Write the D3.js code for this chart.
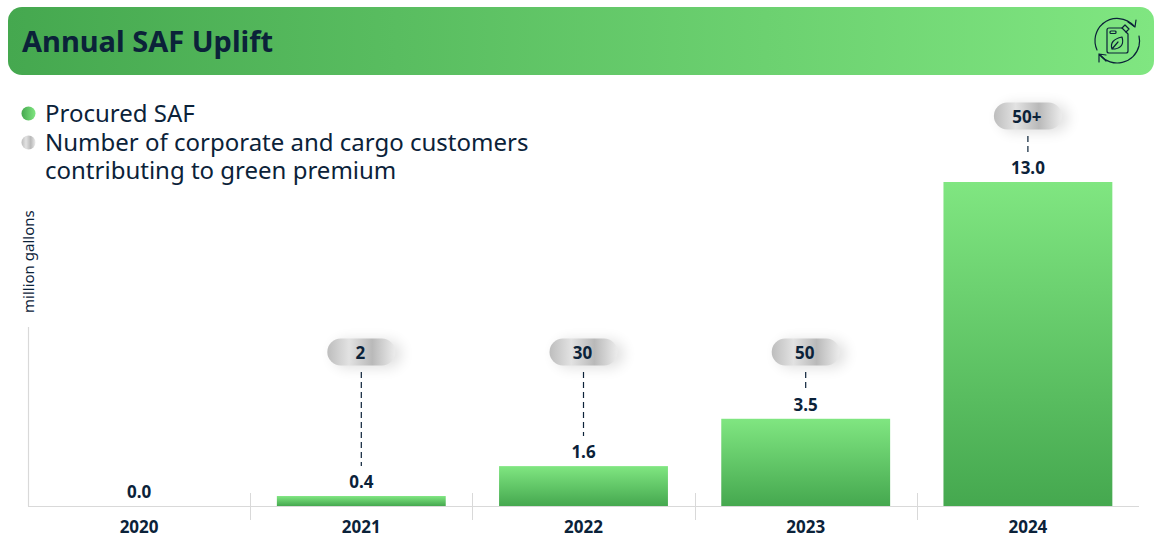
<!DOCTYPE html>
<html>
<head>
<meta charset="utf-8">
<script src="https://cdn.jsdelivr.net/npm/d3@7/dist/d3.min.js"></script>
<style>
  html, body { margin: 0; padding: 0; background: #fff; }
  svg { display: block; }
  text { font-family: "Noto Sans", sans-serif; fill: #0b2239; }
</style>
</head>
<body>
<svg id="chart" width="1158" height="556"></svg>
<script>
const years = ["2020", "2021", "2022", "2023", "2024"];
const procuredSaf = [0.0, 0.4, 1.6, 3.5, 13.0];
const customerLabels = [null, "2", "30", "50", "50+"];
const titleText = "Annual SAF Uplift";
const legendSaf = "Procured SAF";
const legendCustomers = ["Number of corporate and cargo customers", "contributing to green premium"];
const unitLabel = "million gallons";

const ink = "#0b2239";
const svg = d3.select("#chart");
const defs = svg.append("defs");

function linear(id, x2, y2, stops) {
  const g = defs.append("linearGradient").attr("id", id)
    .attr("x1", 0).attr("y1", 0).attr("x2", x2).attr("y2", y2);
  stops.forEach(([o, c]) => g.append("stop").attr("offset", o).attr("stop-color", c));
}
linear("headerFill", 1, 0, [[0, "#45a84f"], [1, "#80e681"]]);
linear("barFill", 0, 1, [[0, "#80e681"], [1, "#45a84f"]]);
linear("dotFill", 1, 0, [[0, "#45a84f"], [1, "#80e681"]]);
linear("pillFill", 1, 0, [[0, "#bdbdbd"], [0.32, "#e2e2e2"], [0.66, "#b9b9b9"], [1, "#ececec"]]);
defs.append("filter").attr("id", "pillHalo")
  .attr("x", "-40%").attr("y", "-80%").attr("width", "180%").attr("height", "260%")
  .append("feGaussianBlur").attr("stdDeviation", 7);

// Header band
svg.append("rect").attr("x", 8).attr("y", 7).attr("width", 1146).attr("height", 68)
  .attr("rx", 14).attr("fill", "url(#headerFill)");
svg.append("text").attr("x", 22).attr("y", 52)
  .attr("font-size", 29).attr("font-weight", 700).text(titleText);

// Fuel-can icon inside a circular arrow pair
const icon = svg.append("g").attr("transform", "translate(1117,41)")
  .attr("fill", "none").attr("stroke", ink).attr("stroke-width", 1.2)
  .attr("stroke-linecap", "round").attr("stroke-linejoin", "round");
icon.append("path").attr("d", "M-14,-17.5 A22.5,22.5 0 0 1 17,-15");
icon.append("path").attr("d", "M11,-19 L18,-14 L19,-21");
icon.append("path").attr("d", "M-20,9 A22.5,22.5 0 0 1 -14,-17.5");
icon.append("path").attr("d", "M22,-5 A22.5,22.5 0 0 1 22,5 A22.5,22.5 0 0 1 -17,14");
icon.append("path").attr("d", "M-11,20 L-18,13 L-18,21 M-11,14 L-18,13");
icon.append("path").attr("d", "M-8,-13 H5 L11,-7 V10 Q11,12 9,12 H-8 Q-10,12 -10,10 V-11 Q-10,-13 -8,-13 Z");
icon.append("rect").attr("x", -7).attr("y", -10).attr("width", 6).attr("height", 2.5).attr("rx", 1);
icon.append("path").attr("d", "M5,-13 L8,-16 L12,-12 L9,-9");
icon.append("path").attr("d", "M-5,8 Q-8,-1 5,-4 Q8,6 -2,8 Z M-5,8 L1,1");

// Legend
const legend = svg.append("g");
legend.append("circle").attr("cx", 28.5).attr("cy", 113.5).attr("r", 7).attr("fill", "url(#dotFill)");
legend.append("circle").attr("cx", 28.5).attr("cy", 142.5).attr("r", 7).attr("fill", "url(#pillFill)");
legend.append("text").attr("x", 45).attr("y", 122).attr("font-size", 24).attr("font-family", "Lato").attr("fill", ink).text(legendSaf);
legendCustomers.forEach((line, i) => {
  legend.append("text").attr("x", 45).attr("y", 151 + i * 28)
    .attr("font-size", 24).attr("font-family", "Lato").text(line);
});

// Scales
const x = d3.scaleBand().domain(years).range([28, 1139]);
const y = d3.scaleLinear().domain([0, 13]).range([506, 182]);
const barWidth = x.bandwidth() * 0.76;
const centre = d => x(d) + x.bandwidth() / 2;

// Axis frame
const grid = "#d9d9d9";
svg.append("line").attr("x1", 28.5).attr("x2", 28.5).attr("y1", 327).attr("y2", 506.5).attr("stroke", grid).attr("stroke-width", 1.2);
svg.append("line").attr("x1", 28).attr("x2", 1139).attr("y1", 506.5).attr("y2", 506.5).attr("stroke", grid).attr("stroke-width", 1.2);
years.slice(1).forEach(yr => {
  const tx = Math.round(x(yr)) + 0.5;
  svg.append("line").attr("x1", tx).attr("x2", tx).attr("y1", 493).attr("y2", 520).attr("stroke", grid);
});

svg.append("text")
  .attr("transform", "translate(34,313) rotate(-90)")
  .attr("font-size", 15).attr("font-family", "Lato").text(unitLabel);

// Bars
svg.append("g").selectAll("rect").data(years).join("rect")
  .attr("x", d => centre(d) - barWidth / 2)
  .attr("width", barWidth)
  .attr("y", (d, i) => y(procuredSaf[i]))
  .attr("height", (d, i) => y(0) - y(procuredSaf[i]))
  .attr("fill", "url(#barFill)");

// Value labels and year labels
svg.append("g").selectAll("text").data(years).join("text")
  .attr("x", centre).attr("y", (d, i) => y(procuredSaf[i]) - 8)
  .attr("text-anchor", "middle").attr("font-size", 17).attr("font-weight", 700)
  .text((d, i) => procuredSaf[i].toFixed(1));
svg.append("g").selectAll("text").data(years).join("text")
  .attr("x", centre).attr("y", 533)
  .attr("text-anchor", "middle").attr("font-size", 17).attr("font-weight", 700)
  .text(d => d);

// Customer-count pills with a dashed leader down to the value label
const pillY = v => Math.min(y(v) - 66, 352);
const pills = svg.append("g").selectAll("g")
  .data(years.map((yr, i) => ({ yr, v: procuredSaf[i], label: customerLabels[i] })).filter(d => d.label))
  .join("g");
pills.append("line")
  .attr("x1", d => centre(d.yr)).attr("x2", d => centre(d.yr))
  .attr("y1", d => pillY(d.v) + 20).attr("y2", d => y(d.v) - 30)
  .attr("stroke", ink).attr("stroke-width", 1.2).attr("stroke-dasharray", "6 4");
pills.append("rect")
  .attr("x", d => centre(d.yr) - 34 + 6).attr("y", d => pillY(d.v) - 13.5 + 2)
  .attr("width", 68).attr("height", 27).attr("rx", 13.5)
  .attr("fill", "#000").attr("opacity", 0.13).attr("filter", "url(#pillHalo)");
pills.append("rect")
  .attr("x", d => centre(d.yr) - 34).attr("y", d => pillY(d.v) - 13.5)
  .attr("width", 68).attr("height", 27).attr("rx", 13.5)
  .attr("fill", "url(#pillFill)");
pills.append("text")
  .attr("x", d => centre(d.yr) - 1).attr("y", d => pillY(d.v) + 6.5)
  .attr("text-anchor", "middle").attr("font-size", 17).attr("font-weight", 700)
  .text(d => d.label);
</script>
</body>
</html>
